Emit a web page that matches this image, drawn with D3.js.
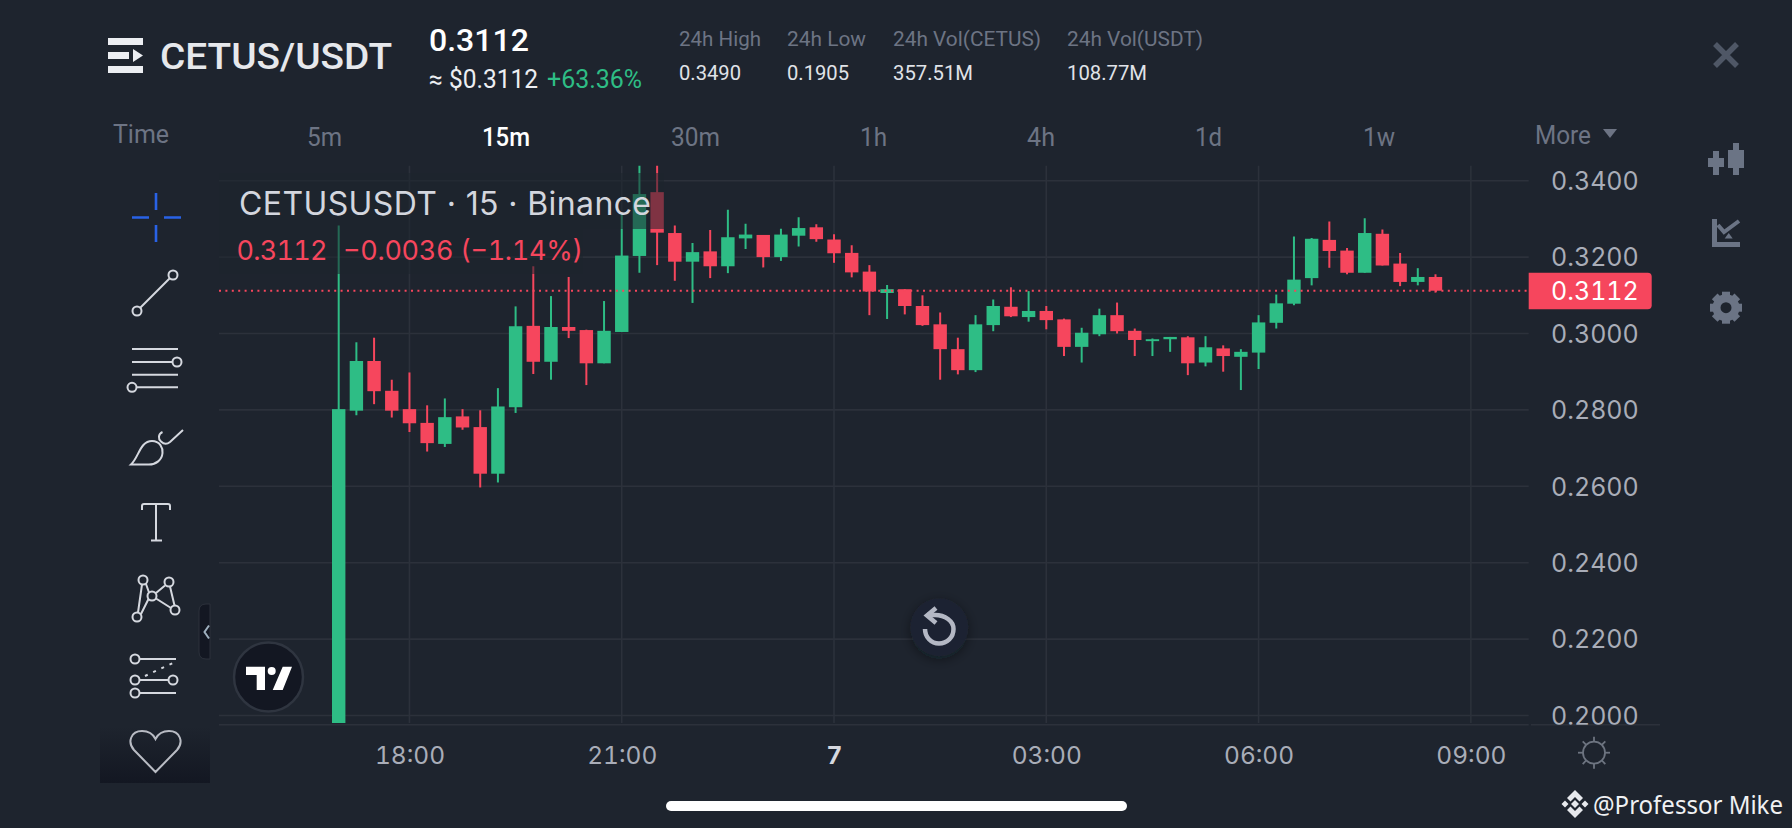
<!DOCTYPE html>
<html><head><meta charset="utf-8">
<script src="https://cdnjs.cloudflare.com/ajax/libs/d3/7.8.5/d3.min.js"></script>
<style>html,body{margin:0;padding:0;background:#1e242e;overflow:hidden}svg{display:block}.tn{font-feature-settings:"tnum" 1;font-variant-numeric:tabular-nums}</style>
</head><body><svg id="c" width="1792" height="828"></svg>
<script>
const opens=[.1905,.2798,.2928,.2850,.2802,.2766,.2711,.2783,.2755,.2633,.2807,.3020,.2926,.3017,.3009,.2922,.3004,.3203,.3370,.3263,.3188,.3215,.3176,.3249,.3258,.3200,.3256,.3278,.3246,.3211,.3162,.3106,.3116,.3072,.3024,.2959,.2904,.3022,.3070,.3043,.3059,.3037,.2965,.2998,.3048,.3007,.2980,.2985,.2990,.2924,.2961,.2939,.2950,.3028,.3078,.3145,.3245,.3217,.3159,.3261,.3183,.3135,.3148];
const closes=[.2802,.2928,.2849,.2798,.2765,.2713,.2781,.2754,.2633,.2809,.3019,.2926,.3017,.3007,.2922,.3007,.3204,.3365,.3264,.3188,.3213,.3176,.3252,.3259,.3200,.3259,.3276,.3247,.3210,.3160,.3110,.3116,.3072,.3022,.2959,.2904,.3024,.3072,.3045,.3059,.3035,.2965,.3002,.3048,.3006,.2983,.2985,.2991,.2922,.2964,.2941,.2952,.3029,.3079,.3141,.3248,.3216,.3159,.3263,.3178,.3135,.3148,.3112];
const highs=[.3283,.2977,.2989,.2879,.2898,.2812,.2830,.2802,.2799,.2857,.3071,.3176,.3098,.3148,.3010,.3085,.3314,.3470,.3490,.3283,.3237,.3271,.3324,.3287,.3258,.3274,.3304,.3286,.3260,.3231,.3179,.3127,.3116,.3100,.3055,.2989,.3048,.3089,.3121,.3111,.3072,.3039,.3015,.3065,.3081,.3013,.2987,.2991,.2993,.2993,.2969,.2959,.3048,.3102,.3254,.3250,.3293,.3224,.3302,.3272,.3211,.3171,.3155];
const lows=[.1905,.2786,.2815,.2780,.2742,.2691,.2703,.2748,.2597,.2610,.2792,.2894,.2879,.2988,.2865,.2922,.3004,.3159,.3179,.3138,.3080,.3145,.3158,.3221,.3173,.3190,.3228,.3240,.3185,.3147,.3048,.3038,.3050,.3020,.2879,.2893,.2899,.3006,.3043,.3031,.3011,.2941,.2924,.2993,.3000,.2941,.2941,.2952,.2891,.2914,.2900,.2852,.2907,.3013,.3074,.3126,.3172,.3155,.3159,.3178,.3124,.3126,.3107];
const priceTicks=[.20,.22,.24,.26,.28,.30,.32,.34];
const timeTickBars=[4,16,28,40,52,64];
const timeTickLabels=["18:00","21:00","7","03:00","06:00","09:00"];
const lastPrice=0.3112;
const intervals=["5m","15m","30m","1h","4h","1d","1w"];
const statLabels=["24h High","24h Low","24h Vol(CETUS)","24h Vol(USDT)"];
const statValues=["0.3490","0.1905","357.51M","108.77M"];

const BG="#1e242e",UP="#2ebd85",DN="#f6465d",GRID="#2c313b",AX="#a9adb8",ICON="#d5d8df",SIDE="#6b7485",MUT="#6d7484";
const svg=d3.select("#c");
const F="Inter, Roboto, sans-serif", D="Roboto, sans-serif";
const L=219,R=1528.7,T=165.7,B=724.7;
const x=d3.scaleLinear().domain([0,62]).range([338.7,338.7+62*17.69]);
const y=d3.scaleLinear().domain([.20,.34]).range([715.5,180.7]);
const defs=svg.append("defs");
defs.append("clipPath").attr("id","plot").append("rect").attr("x",L).attr("y",T).attr("width",R-L).attr("height",723-T);
defs.append("clipPath").attr("id","ax").append("rect").attr("x",R).attr("y",T).attr("width",130).attr("height",B-T);
const g0=defs.append("linearGradient").attr("id","hg").attr("x1",0).attr("x2",0).attr("y1",0).attr("y2",1);
g0.append("stop").attr("offset",0).attr("stop-color",BG);g0.append("stop").attr("offset",1).attr("stop-color","#131722");
const blur=defs.append("filter").attr("id","sh").attr("x","-50%").attr("y","-50%").attr("width","200%").attr("height","200%");
blur.append("feDropShadow").attr("dx",0).attr("dy",3).attr("stdDeviation",6).attr("flood-color","#10131a").attr("flood-opacity",.45);

function txt(s,px,py,size,fill,o={}){
  const t=svg.append("text").attr("x",px).attr("y",py).attr("font-size",size).attr("fill",fill)
   .attr("font-family",o.f||F).attr("font-weight",o.w||400).attr("text-anchor",o.a||"start").attr("dominant-baseline","central").text(s);
  if(o.len){t.attr("textLength",o.len).attr("lengthAdjust",o.adj||"spacingAndGlyphs");}
  if(o.tn){t.attr("class","tn");}
  return t;
}
// grid
svg.append("g").selectAll("line").data(priceTicks).join("line").attr("x1",L).attr("x2",R).attr("y1",d=>y(d)).attr("y2",d=>y(d)).attr("stroke",GRID).attr("stroke-width",1.6);
svg.append("g").selectAll("line").data(timeTickBars).join("line").attr("x1",d=>x(d)).attr("x2",d=>x(d)).attr("y1",T).attr("y2",723).attr("stroke",GRID).attr("stroke-width",1.6);
svg.append("line").attr("x1",L).attr("x2",R).attr("y1",B).attr("y2",B).attr("stroke",GRID).attr("stroke-width",1.6);
svg.append("line").attr("x1",1531).attr("x2",1660).attr("y1",B).attr("y2",B).attr("stroke",GRID).attr("stroke-width",1.6);

// candles
const plot=svg.append("g").attr("clip-path","url(#plot)");
const idx=d3.range(opens.length);
const col=i=>closes[i]>=opens[i]?UP:DN;
plot.selectAll("line.w").data(idx).join("line").attr("class","w").attr("x1",x).attr("x2",x).attr("y1",i=>y(highs[i])).attr("y2",i=>y(lows[i])).attr("stroke",col).attr("stroke-width",2);
plot.selectAll("rect.b").data(idx).join("rect").attr("class","b").attr("x",i=>x(i)-6.7).attr("width",13.4)
 .attr("y",i=>y(Math.max(opens[i],closes[i]))).attr("height",i=>Math.max(1.5,Math.abs(y(opens[i])-y(closes[i])))).attr("fill",col);
// last price line
svg.append("line").attr("x1",L).attr("x2",R).attr("y1",y(lastPrice)).attr("y2",y(lastPrice)).attr("stroke",DN).attr("stroke-width",2).attr("stroke-dasharray","2 4.4");

// legend veil
svg.append("rect").attr("x",L).attr("y",173).attr("width",445).attr("height",56).attr("fill",BG).attr("opacity",.55);
svg.append("rect").attr("x",L).attr("y",229).attr("width",364).attr("height",45).attr("fill",BG).attr("opacity",.55);
txt("CETUSUSDT · 15 · Binance",239,203,32,"#d3d6de",{len:412,adj:"spacing"});
txt("0.3112",236.5,250,27,DN,{tn:1,len:91,adj:"spacing"});
txt("−0.0036 (−1.14%)",343,250,27,DN,{tn:1,len:240,adj:"spacing"});

// axes
const yA=svg.append("g").attr("clip-path","url(#ax)").append("g").attr("transform","translate(1551,0)")
 .call(d3.axisRight(y).tickValues(priceTicks).tickFormat(d3.format(".4f")).tickSize(0).tickPadding(0));
yA.select(".domain").remove();
yA.selectAll("text").attr("class","tn").attr("font-family",F).attr("font-size",25).attr("fill",AX).attr("dy",".35em");
const xA=svg.append("g").attr("transform","translate(0,755)")
 .call(d3.axisBottom(x).tickValues(timeTickBars).tickFormat((d,i)=>timeTickLabels[i]).tickSize(0).tickPadding(0));
xA.select(".domain").remove();
xA.selectAll("text").attr("class","tn").attr("font-family",F).attr("font-size",24.5).attr("dy",".35em").attr("font-weight",(d,i)=>timeTickLabels[i]==="7"?700:400).attr("fill",(d,i)=>timeTickLabels[i]==="7"?"#d5d8df":AX);

// price tag
svg.append("path").attr("d",`M${R} ${y(lastPrice)-18}H1647.7a4 4 0 0 1 4 4V${y(lastPrice)+14.5}a4 4 0 0 1 -4 4H${R}Z`).attr("fill",DN);
txt(d3.format(".4f")(lastPrice),1551,y(lastPrice),25,"#fff",{tn:1});

// header
svg.append("rect").attr("x",108).attr("y",38).attr("width",35).attr("height",7).attr("fill","#eceef2");
svg.append("rect").attr("x",108).attr("y",66).attr("width",35).attr("height",7).attr("fill","#eceef2");
svg.append("path").attr("d","M108 52H129V59H108ZM133 49L143 55.5L133 62Z").attr("fill","#eceef2");
txt("CETUS/USDT",160,57,36,"#e6e8ec",{f:D,w:500,len:232});
txt("0.3112",429,40,32,"#fff",{f:D,w:500,len:100});
txt("≈ $0.3112",429,79,25,"#eceef2",{f:D,w:400,len:109});
txt("+63.36%",547,79,25,UP,{f:D,w:400,len:95});
const sx=[679,787,893,1067],slw=[82,79,148,136],svw=[62,62,80,80];
statLabels.forEach((s,i)=>{txt(s,sx[i],39,21,MUT,{f:D,len:slw[i]});txt(statValues[i],sx[i],73,20,"#e0e3e8",{f:D,len:svw[i]});});
// interval row
txt("Time",113,134.5,25,MUT,{f:D,len:56});
const ix=[324.5,506,695.5,873.5,1041,1208.5,1379],iw=[35,48,49,27,28,27,32];
intervals.forEach((s,i)=>txt(s,ix[i]-iw[i]/2,137,25,s==="15m"?"#fff":MUT,{f:D,w:s==="15m"?500:400,len:iw[i]}));
txt("More",1535,135,25,MUT,{f:D,len:56});
svg.append("path").attr("d","M1603 129H1617L1610 138Z").attr("fill",MUT);

// left toolbar
const I=svg.append("g").attr("fill","none").attr("stroke",ICON).attr("stroke-width",2);
I.append("path").attr("d","M156 193V210M156 225V242M132 217.5H149M164 217.5H181").attr("stroke","#2962e6").attr("stroke-width",2.6);
I.append("path").attr("d","M140.5 307.5L169.5 278.5");
I.append("circle").attr("cx",173).attr("cy",275).attr("r",4.5);
I.append("circle").attr("cx",137).attr("cy",311).attr("r",4.5);
I.append("path").attr("d","M132 349H178M132 362H172.5M132 374.7H178M136.5 387.3H178");
I.append("circle").attr("cx",177).attr("cy",362).attr("r",4.5);
I.append("circle").attr("cx",132).attr("cy",387.3).attr("r",4.5);
I.append("path").attr("d","M131 464.5C139 457 140 441 152 441C160 441 163 448 162.5 453C162 460 156 464.5 149 464.5ZM162.5 432C158 434 158 439 161 441.5C164 444.5 167 444.5 170 442L183 430");
I.append("path").attr("d","M142 510V506Q142 504 144 504H168Q170 504 170 506V510M156 504V540.5M151 540.5H162");
[[143,580],[169,582],[152,596],[137,617],[175,610]].forEach(c=>I.append("circle").attr("cx",c[0]).attr("cy",c[1]).attr("r",4.5));
I.append("path").attr("d","M142 584.5L138 612.5M146 584L149 592.5M156 593L165 585.5M170 586.5L174.5 605.5M141 614L148.5 599M156 598.5L171 608");
I.append("path").attr("d","M139.5 659H176M139.5 680H168.5M139.5 693H176");
[[135,659],[135,680],[173,680],[135,693]].forEach(c=>I.append("circle").attr("cx",c[0]).attr("cy",c[1]).attr("r",4.5));
I.append("path").attr("d","M145 676L173 663").attr("stroke-dasharray","3 6");
// handle
svg.append("path").attr("d","M210 604H206Q199 604 199 611V652Q199 659 206 659H210Z").attr("fill","#131722").attr("stroke","#2c313b");
svg.append("path").attr("d","M209 625.5L204.5 632L209 638.5").attr("fill","none").attr("stroke","#9fb0bf").attr("stroke-width",2);
// heart
svg.append("rect").attr("x",100).attr("y",727).attr("width",110).attr("height",56).attr("fill","url(#hg)");
svg.append("path").attr("d","M155.5 772L134 750C127 742 131 731 142 731C148 731 153 734 155.5 739C158 734 163 731 169 731C180 731 184 742 177 750Z").attr("fill","none").attr("stroke","#b9bcc4").attr("stroke-width",2);
// TV logo
svg.append("circle").attr("cx",268.5).attr("cy",677).attr("r",34.5).attr("fill","#131722").attr("stroke","#2f3540").attr("stroke-width",2.5);
svg.append("path").attr("d","M246 666.7H265V690H256.7V675H246ZM282.7 666.7H292L282.7 690H272.7Z").attr("fill","#fff");
svg.append("circle").attr("cx",271.7).attr("cy",671).attr("r",4).attr("fill","#fff");
// reset
svg.append("circle").attr("cx",939.3).attr("cy",627.3).attr("r",29).attr("fill","#1f2430").attr("filter","url(#sh)");
svg.append("path").attr("d","M927 615H935C945 615 953.5 621 953.5 629C953.5 637.5 947 643.5 939 643.5C931 643.5 925 637 925 629").attr("fill","none").attr("stroke","#b4b8c4").attr("stroke-width",4.5);
svg.append("path").attr("d","M936 608L927 615.5L936 623").attr("fill","none").attr("stroke","#b4b8c4").attr("stroke-width",4.5);

// right toolbar
svg.append("path").attr("d","M1715 44L1737 66M1737 44L1715 66").attr("stroke","#4f5766").attr("stroke-width",5.5);
svg.append("path").attr("d","M1713 151H1719V158H1724V167H1719V175H1713V167H1708V158H1713Z").attr("fill",SIDE);
svg.append("path").attr("d","M1733 143H1739V150H1744V168H1739V175H1733V168H1728V150H1733Z").attr("fill",SIDE);
svg.append("path").attr("d","M1714.5 219V244.5H1740").attr("fill","none").attr("stroke",SIDE).attr("stroke-width",5);
svg.append("path").attr("d","M1718 225L1724 232L1739 221").attr("fill","none").attr("stroke",SIDE).attr("stroke-width",4);
svg.append("path").attr("d","M1728.7 233L1732.7 238.5H1724.7Z").attr("fill",SIDE);
const gear=svg.append("g").attr("transform","translate(1726,307.7)");
gear.append("circle").attr("r",9.5).attr("fill","none").attr("stroke",SIDE).attr("stroke-width",8);
d3.range(8).forEach(i=>gear.append("rect").attr("x",-4).attr("y",-16).attr("width",8).attr("height",6).attr("fill",SIDE).attr("transform",`rotate(${i*45})`));
// sun
const sun=svg.append("g").attr("transform","translate(1594,752.7)").attr("fill","none").attr("stroke","#6d7480").attr("stroke-width",1.8);
sun.append("circle").attr("r",11);
d3.range(8).forEach(i=>sun.append("line").attr("y1",-11).attr("y2",-16).attr("transform",`rotate(${i*45})`));
// watermark
svg.append("path").attr("d","M1575 790L1583 798L1579.5 801.5L1575 797L1570.5 801.5L1567 798ZM1575 800L1579 804L1575 808L1571 804ZM1565 800.5L1568.5 804L1565 807.5L1561.5 804ZM1585 800.5L1588.5 804L1585 807.5L1581.5 804ZM1567 810L1570.5 806.5L1575 811L1579.5 806.5L1583 810L1575 818Z").attr("fill","#e6e8ec");
txt("@Professor Mike",1593,804,25,"#f0f1f3",{f:"'Noto Sans', sans-serif",len:190});
// home bar
svg.append("rect").attr("x",666).attr("y",801).attr("width",461).attr("height",10).attr("rx",5).attr("fill","#fff");
</script></body></html>
